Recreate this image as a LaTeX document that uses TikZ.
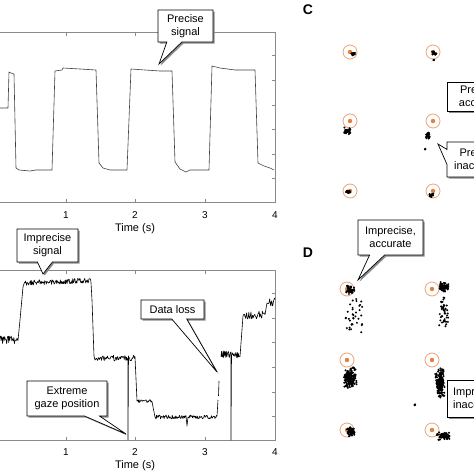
\documentclass[tikz,border=0pt]{standalone}
\usepackage{fontspec}
\setmainfont{Liberation Sans}
\setsansfont{Liberation Sans}
\usetikzlibrary{shapes.callouts,shadows}

\definecolor{ringc}{HTML}{E9A47C}
\definecolor{dotc}{HTML}{E57F3A}
\definecolor{framec}{HTML}{8A8A8A}

\begin{document}
\begin{tikzpicture}[x=1pt,y=-1pt,
  frame/.style={draw=framec,line width=0.7pt},
  sig/.style={black,line width=0.6pt,line join=round},
  sigtop/.style={black!75,line width=0.6pt,line join=round},
  callbox/.style={rectangle callout,draw=black,fill=white,line width=0.7pt,
    align=center,inner sep=2pt,font=\fontsize{11}{13}\selectfont,
    callout pointer width=15pt,
    drop shadow={shadow xshift=1.6pt,shadow yshift=-1.6pt,fill=black!45,opacity=1}},
  plainbox/.style={rectangle,draw=black,fill=white,line width=0.7pt,
    align=center,inner sep=2pt,font=\fontsize{11}{13}\selectfont,
    drop shadow={shadow xshift=1.6pt,shadow yshift=-1.6pt,fill=black!45,opacity=1}},
  ticklab/.style={font=\fontsize{10}{12}\selectfont},
  axlab/.style={font=\fontsize{11}{13}\selectfont},
  panel/.style={font=\fontsize{14}{16}\selectfont\bfseries},
  ring/.style={draw=ringc,line width=0.8pt},
  dotty/.style={fill=black}]
\clip (0,0) rectangle (474,474);
\fill[white] (0,0) rectangle (474,474);
\pgfmathsetseed{17}

% top trace
\draw[frame] (-10,32) rectangle (275,202);
\foreach \x in {66,135,205} {
  \draw[frame] (\x,202) -- (\x,198.5);
  \draw[frame] (\x,32) -- (\x,35.5);
}
\foreach \y in {55,80,105,129,154,178}
  \draw[frame] (275,\y) -- (271.5,\y);
\foreach \t/\x in {1/66,2/135,3/205,4/275}
  \node[ticklab] (ta\t) at (\x,215) {\t};
\node[axlab] (timea) at (135,229) {Time (s)};

\draw[sigtop] (0,108) -- (8,108) -- (9,72) -- (11,73) -- (14,74) -- (16,168)
  -- (19,170) -- (30,171) -- (36,170) -- (52,170) -- (55,71) -- (62,70)
  -- (63,68) -- (80,69) -- (96,70) -- (99,163) -- (103,168) -- (110,170)
  -- (127,170) -- (131,69) -- (145,70) -- (160,71) -- (172,71) -- (175,162)
  -- (180,169) -- (186,172) -- (190,170) -- (209,170) -- (212,66) -- (220,68)
  -- (235,70) -- (255,70) -- (258,163) -- (264,166) -- (270,168) -- (274,170);

% bottom trace
\draw[frame] (-10,270) rectangle (275,440);
\foreach \x in {66,135,205} {
  \draw[frame] (\x,440) -- (\x,436.5);
  \draw[frame] (\x,270) -- (\x,273.5);
}
\foreach \y in {293,318,342,367,392,416}
  \draw[frame] (275,\y) -- (271.5,\y);
\foreach \t/\x in {1/66,2/135,3/205,4/275}
  \node[ticklab] (tb\t) at (\x,452) {\t};
\node[axlab] (timeb) at (135,466) {Time (s)};

\draw[sig] plot[domain=0:18,samples=36] (\x,{340+4*rand})
  -- (20,320) -- (23,287)
  -- plot[domain=24:91,samples=130] (\x,{283-0.04*(\x-24)+2.5*rand})
  -- (92,300) -- (94,356)
  -- plot[domain=95:127,samples=60] (\x,{358+3*rand})
  -- (128,358) -- (128,440) -- (128.5,356)
  -- plot[domain=129:135,samples=12] (\x,{358+3*rand})
  -- (137,401)
  -- plot[domain=138:152,samples=28] (\x,{401+1.5*rand})
  -- (155,417)
  -- plot[domain=156:186,samples=60] (\x,{417+2*rand})
  -- (187,426) -- (188,417)
  -- plot[domain=189:217,samples=56] (\x,{417+2*rand})
  -- (218,400);
\draw[sig] (218.5,396) -- (219,381);
\draw[sig] plot[domain=221:230,samples=18] (\x,{354+4*rand})
  -- (231,352) -- (231,440) -- (231.5,355)
  -- plot[domain=232:240,samples=16] (\x,{356+4*rand})
  -- (243,316)
  -- plot[domain=244:265,samples=40] (\x,{315+4*rand})
  -- (267,303)
  -- plot[domain=268:275,samples=14] (\x,{302+4*rand});

% callouts on the traces
\node[callbox,minimum width=55,minimum height=32,
  callout absolute pointer={(159,64)}] (precsig) at (185.5,26) {Precise\\signal};
\node[callbox,minimum width=61,minimum height=33,
  callout absolute pointer={(43,274)}] (imprecsig) at (47.5,245.5) {Imprecise\\signal};
\node[callbox,minimum width=63,minimum height=19,
  callout absolute pointer={(217,372)}] (dloss) at (172.5,309.5) {Data loss};
\node[callbox,minimum width=80,minimum height=35,
  callout absolute pointer={(126,434)}] (xgaze) at (67,398.5) {Extreme\\gaze position};

% panels C and D
\node[panel] (labC) at (308,10) {C};
\node[panel] (labD) at (308,253) {D};

\foreach \cx/\cy in {350/52,433/52,350/121,433/121,350/191,433/191,
                     347/289,432/289,347/360,432/360,347/430,432/430} {
  \draw[ring] (\cx,\cy) circle (7);
  \fill[dotc] (\cx,\cy) circle (2.2);
}

% gaze samples
\foreach \cx/\cy/\sx/\sy/\n in {353/54/2.5/1.5/16,434/53/2.5/2.5/16,434/60/1/0.5/3,
    347/131/4/3.5/35,428/136/2.5/3.5/30,425/149/0.8/0.8/3,
    348/192/3/2.5/20,431/195/2.5/2.5/16,
    350/290/4.5/4.5/55,354/315/10/20/35,444/287/5/5/70,444/312/5/18/45,
    350/378/7/11/180,440/382/5/17/180,415/405/1/1/4,
    351/432/4.5/6/70,443/436/7/4/80} {
  \foreach \i in {1,...,\n}
    \fill[dotty] ({\cx+\sx*(rand+rand)/2},{\cy+\sy*(rand+rand)/2}) circle (1.1);
}

% callouts on the scatter panels
\node[plainbox,minimum width=66,minimum height=29] (pacc) at (480,96.5) {Precise,\\accurate};
\node[callbox,minimum width=65,minimum height=35,
  callout absolute pointer={(438,144)}] (pinacc) at (479.5,159.5) {Precise,\\inaccurate};
\node[callbox,minimum width=65,minimum height=35,
  callout absolute pointer={(358,280)}] (impacc) at (390.5,237.5) {Imprecise,\\accurate};
\node[plainbox,minimum width=63,minimum height=37] (impinacc) at (478.5,398.5) {Imprecise,\\inaccurate};
\end{tikzpicture}
\end{document}
